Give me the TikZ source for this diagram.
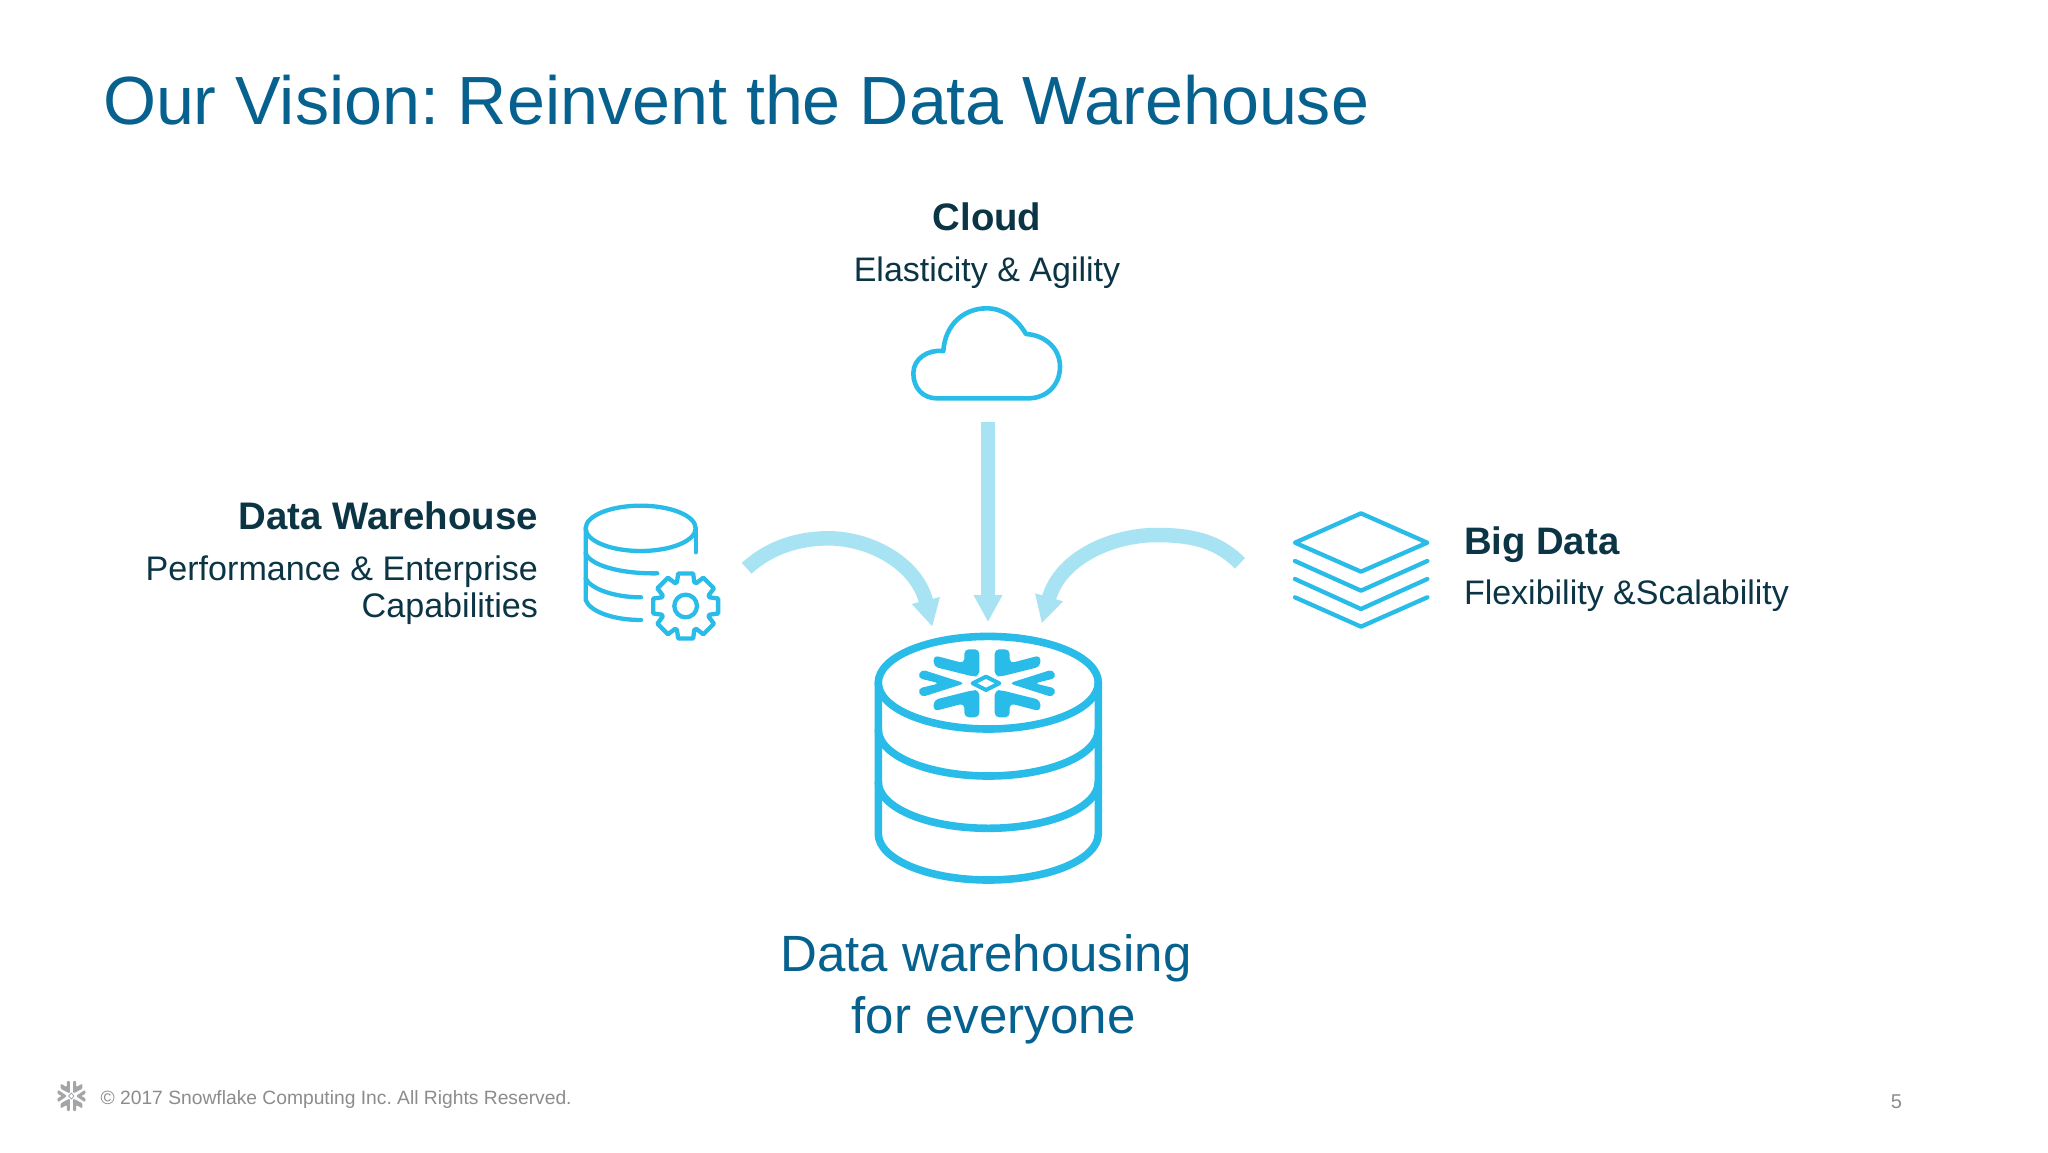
\documentclass[tikz,border=0pt]{standalone}
\usepackage{fontspec}
\setmainfont{Liberation Sans}
\usetikzlibrary{arrows.meta}
\frenchspacing
\definecolor{titleblue}{HTML}{06618F}
\definecolor{inkdark}{HTML}{0B3545}
\definecolor{icon}{HTML}{29BCE8}
\definecolor{flow}{HTML}{A8E3F3}
\definecolor{foot}{HTML}{8C8C8C}
\definecolor{footlogo}{HTML}{A3A5A7}
\newcommand{\fsz}[1]{\fontsize{#1}{#1}\selectfont}
\newcommand{\snowflake}[6]{% x, y, x unit, y unit, radius, colour
  \begin{scope}[shift={(#1,#2)},x=#3pt,y=-#4pt,fill=#6,draw=#6]
    \foreach \sx/\sy in {1/1,-1/1,1/-1,-1/-1}{
      \fill[xscale=\sx,yscale=\sy,rounded corners=#5pt]
        (-68,-102) -- (-23,-102) -- (-23,-22) -- (-40,-20) -- (-160,-50) -- (-160,-84) -- (-68,-60) -- cycle;
    }
    \foreach \sx in {1,-1}{
      \fill[xscale=\sx,rounded corners=#5pt]
        (-66,0) -- (-198,42) -- (-208,16) -- (-142,0) -- (-208,-16) -- (-198,-42) -- cycle;
    }
    \draw[line width=12*#3 pt,line join=round] (-43,0) -- (-3,-20) -- (37,0) -- (-3,20) -- cycle;
  \end{scope}}
\tikzset{
  txt/.style={inner sep=0pt,outer sep=0pt},
  iconline/.style={draw=icon,line width=4.3pt,line cap=round,line join=round},
  cyl/.style={draw=icon,line width=7.6pt,line cap=round,line join=round},
  flowarrow/.style={draw=flow,line width=14.5pt,-{Triangle[width=27pt,length=27pt,fill=flow]}},
}
\begin{document}
\begin{tikzpicture}[x=1pt,y=-1pt]
\useasboundingbox (0,0) rectangle (2048,1152);
\fill[white] (0,0) rectangle (2048,1152);

% texts
\node[txt,anchor=base west,text=titleblue] (title) at (103,124.5) {\fsz{68.2}Our Vision: Reinvent the Data Warehouse};
\node[txt,anchor=base,text=inkdark] (cloudh) at (987,230) {\fsz{38.3}\bfseries Cloud};
\node[txt,anchor=base,text=inkdark] (cloudt) at (987,281) {\fsz{34}Elasticity \& Agility};
\node[txt,anchor=base east,text=inkdark] (dwh) at (538,529) {\fsz{38.4}\bfseries Data Warehouse};
\node[txt,anchor=base east,text=inkdark] (dwt1) at (538,580) {\fsz{34.1}Performance \& Enterprise};
\node[txt,anchor=base east,text=inkdark] (dwt2) at (538,617) {\fsz{34.1}Capabilities};
\node[txt,anchor=base west,text=inkdark] (bdh) at (1464,554) {\fsz{38.3}\bfseries Big Data};
\node[txt,anchor=base west,text=inkdark] (bdt) at (1464,604.5) {\fsz{34}Flexibility \&Scalability};
\node[txt,anchor=base,text=titleblue] (vis1) at (986,971.5) {\fsz{51}Data warehousing};
\node[txt,anchor=base,text=titleblue] (vis2) at (993.5,1033) {\fsz{51.1}for everyone};
\node[txt,anchor=base west,text=foot] (copy) at (100.6,1104.5) {\fsz{19.25}© 2017 Snowflake Computing Inc. All Rights Reserved.};
\node[txt,anchor=base,text=foot] (page) at (1896.5,1108.5) {\fsz{20}5};

% cloud icon
\begin{scope}[shift={(900,290)},x=0.3333pt,y=-0.3333pt]
  \draw[iconline,line width=4.6pt] (130,183) .. controls (85,178) and (40,205) .. (40,250)
    .. controls (40,295) and (70,325) .. (110,325) -- (385,325)
    .. controls (440,325) and (480,285) .. (480,230)
    .. controls (480,175) and (435,135) .. (378,132)
    .. controls (350,85) and (310,55) .. (260,55)
    .. controls (190,55) and (135,105) .. (130,183) -- cycle;
\end{scope}

% data warehouse icon
\begin{scope}[shift={(570,490)},x=0.3333pt,y=-0.3333pt]
  \draw[iconline] (212,115) ellipse [x radius=165,y radius=68];
  \draw[iconline] (47,115) -- (47,330) .. controls (60,365) and (130,390) .. (213,390);
  \draw[iconline] (377,115) -- (377,187);
  \draw[iconline] (47,190) .. controls (60,225) and (150,252) .. (262,250);
  \draw[iconline] (47,265) .. controls (60,295) and (130,322) .. (213,322);
  \begin{scope}[shift={(347,348)}]
    \draw[iconline] (0,0) circle [radius=34];
    \draw[iconline] (-20:76) \foreach \a in {0,45,...,315}{ -- (\a-13:100) -- (\a+13:100) -- (\a+20:76) -- (\a+25:76) } -- cycle;
  \end{scope}
\end{scope}

% big data icon
\begin{scope}[shift={(1030,500)},x=0.3333pt,y=-0.3333pt]
  \draw[iconline] (993,40) -- (1192,128) -- (993,215) -- (795,128) -- cycle;
  \draw[iconline] (795,183) -- (993,272) -- (1192,183);
  \draw[iconline] (795,237) -- (993,327) -- (1192,237);
  \draw[iconline] (795,292) -- (993,380) -- (1192,292);
\end{scope}

% central cylinder
\draw[cyl] (988.3,682.7) ellipse [x radius=110,y radius=46.3];
\draw[cyl] (878.3,682.7) -- (878.3,833.7) arc [start angle=180,end angle=360,x radius=110,y radius=-46.3] -- (1098.3,682.7);
\draw[cyl] (878.3,729.7) arc [start angle=180,end angle=360,x radius=110,y radius=-46.3];
\draw[cyl] (878.3,782) arc [start angle=180,end angle=360,x radius=110,y radius=-46.3];
\snowflake{987}{683.3}{0.3333}{0.3333}{4.5}{icon}

% footer logo
\snowflake{71.5}{1096}{0.0683}{0.148}{1.1}{footlogo}

% flow arrows
\coordinate (cloudOut) at (988,422);
\coordinate (warehouseIn) at (988,622);
\coordinate (dwOut) at (746.7,568.3);
\coordinate (dwTop) at (828.3,538.3);
\coordinate (dwIn) at (932.3,626.7);
\coordinate (bdOut) at (1240,563.3);
\coordinate (bdTop) at (1156.7,535);
\coordinate (bdIn) at (1041.7,623.3);
\draw[flowarrow] (cloudOut) -- (warehouseIn);
\draw[flowarrow] (dwOut) .. controls (770,546.7) and (800,538.3) .. (dwTop) .. controls (870,538.3) and (916.7,563.3) .. (dwIn);
\draw[flowarrow] (bdOut) .. controls (1220,543.3) and (1196.7,535) .. (bdTop) .. controls (1113.3,535) and (1060.7,556.7) .. (bdIn);
\end{tikzpicture}
\end{document}
